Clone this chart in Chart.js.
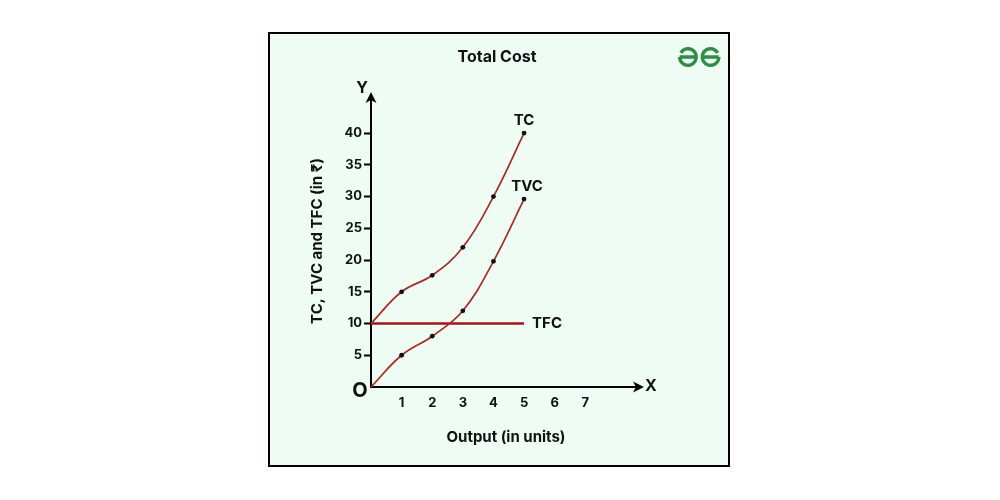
<!DOCTYPE html>
<html>
<head>
<meta charset="utf-8">
<script src="https://cdn.jsdelivr.net/npm/chart.js@4.4.1/dist/chart.umd.min.js"></script>
<style>
  html, body { margin: 0; padding: 0; background: #fff; }
</style>
</head>
<body>
<canvas id="costChart" width="1000" height="500"></canvas>
<script>
// data
var output = [0, 1, 2, 3, 4, 5];
var tc  = [10, 15, 17.6, 22, 30, 40];
var tvc = [0, 5, 8, 12, 19.8, 29.6];
var tfc = [10, 10, 10, 10, 10, 10];
var xTicks = [1, 2, 3, 4, 5, 6, 7];
var yTicks = [5, 10, 15, 20, 25, 30, 35, 40];

var FONT = "Inter, 'Noto Sans', 'DejaVu Sans', sans-serif";
var curveRed = '#a82b26';
var fixedRed = '#a11717';

function pts(vals) {
  return output.map(function (x, i) { return { x: x, y: vals[i] }; });
}
// no dot at the origin end of the curves
function dotRadius(c) { return c.dataIndex === 0 ? 0 : 2.4; }

var decor = {
  id: 'decor',
  beforeDraw: function (chart) {
    var c = chart.ctx;
    c.save();
    c.fillStyle = '#fff';
    c.fillRect(0, 0, chart.width, chart.height);
    c.fillStyle = '#eefcf4';
    c.fillRect(269, 33, 460, 433);
    c.strokeStyle = '#000';
    c.lineWidth = 2;
    c.strokeRect(269, 33, 460, 433);
    c.restore();
  },
  afterDraw: function (chart) {
    var c = chart.ctx, a = chart.chartArea;
    c.save();
    c.fillStyle = '#000';
    // arrow heads
    c.beginPath();
    c.moveTo(a.left, a.top - 3);
    c.lineTo(a.left - 5.5, a.top + 8);
    c.lineTo(a.left, a.top + 5);
    c.lineTo(a.left + 5.5, a.top + 8);
    c.closePath();
    c.fill();
    c.beginPath();
    c.moveTo(a.right + 3, a.bottom);
    c.lineTo(a.right - 8, a.bottom - 5.5);
    c.lineTo(a.right - 5, a.bottom);
    c.lineTo(a.right - 8, a.bottom + 5.5);
    c.closePath();
    c.fill();

    c.fillStyle = '#111';
    c.textBaseline = 'middle';
    c.textAlign = 'center';
    c.font = 'bold 16px ' + FONT;
    c.fillText('Y', a.left - 9, a.top - 7);
    c.fillText('X', a.right + 10, a.bottom - 1);
    c.font = 'bold 20px ' + FONT;
    c.fillText('O', a.left - 11, a.bottom + 4);

    c.font = 'bold 16px ' + FONT;
    c.fillText('Total Cost', 497, 57);

    // series names next to their last point
    c.font = 'bold 15px ' + FONT;
    var m0 = chart.getDatasetMeta(0).data, m1 = chart.getDatasetMeta(1).data, m2 = chart.getDatasetMeta(2).data;
    var p = m0[m0.length - 1];
    c.fillText('TC', p.x, p.y - 13);
    p = m1[m1.length - 1];
    c.fillText('TVC', p.x + 3, p.y - 13);
    p = m2[m2.length - 1];
    c.textAlign = 'left';
    c.fillText('TFC', p.x + 8, p.y);

    // logo
    c.strokeStyle = '#2f8d46';
    c.lineWidth = 3.4;
    c.beginPath();
    c.arc(688, 57, 8.3, -5 * Math.PI / 6, Math.PI, false);
    c.moveTo(679.7, 57); c.lineTo(696.3, 57);
    c.stroke();
    c.beginPath();
    c.arc(710.5, 57, 8.3, -Math.PI / 6, 0, true);
    c.moveTo(702.2, 57); c.lineTo(718.8, 57);
    c.stroke();
    c.restore();
  }
};

var ctx = document.getElementById('costChart').getContext('2d');
var costChart = new Chart(ctx, {
  type: 'line',
  data: {
    datasets: [
      { label: 'TC', data: pts(tc), borderColor: curveRed, borderWidth: 1.7, tension: 0.4,
        pointRadius: dotRadius, pointBackgroundColor: '#111', pointBorderWidth: 0, clip: false },
      { label: 'TVC', data: pts(tvc), borderColor: curveRed, borderWidth: 1.7, tension: 0.4,
        pointRadius: dotRadius, pointBackgroundColor: '#111', pointBorderWidth: 0, clip: false },
      { label: 'TFC', data: pts(tfc), borderColor: fixedRed, borderWidth: 2.6, tension: 0,
        pointRadius: 0, clip: false }
    ]
  },
  options: {
    responsive: false,
    animation: false,
    layout: { padding: { left: 305, right: 359, top: 95, bottom: 53 } },
    plugins: { legend: { display: false }, tooltip: { enabled: false } },
    scales: {
      x: {
        type: 'linear', min: 0, max: 8.82,
        afterBuildTicks: function (s) { s.ticks = xTicks.map(function (v) { return { value: v }; }); },
        afterFit: function (s) { s.height = 60; },
        grid: { display: false, drawTicks: false },
        border: { display: true, color: '#000', width: 2 },
        ticks: { color: '#111', padding: 8, font: { family: FONT, size: 13, weight: 'bold' } },
        title: { display: true, text: 'Output (in units)', color: '#111',
                 font: { family: FONT, size: 15, weight: 'bold' }, padding: { top: 0, bottom: 1 } }
      },
      y: {
        min: 0, max: 46,
        afterBuildTicks: function (s) { s.ticks = yTicks.map(function (v) { return { value: v }; }); },
        afterFit: function (s) { s.width = 66; },
        grid: { drawOnChartArea: false, tickLength: 7, tickColor: '#000', tickWidth: 2 },
        border: { display: true, color: '#000', width: 2 },
        ticks: { color: '#111', padding: 2, font: { family: FONT, size: 13, weight: 'bold' } },
        title: { display: true, text: 'TC, TVC and TFC (in ₹)', color: '#111',
                 font: { family: FONT, size: 15, weight: 'bold' }, padding: { top: 3, bottom: 0 } }
      }
    }
  },
  plugins: [decor]
});
</script>
</body>
</html>
